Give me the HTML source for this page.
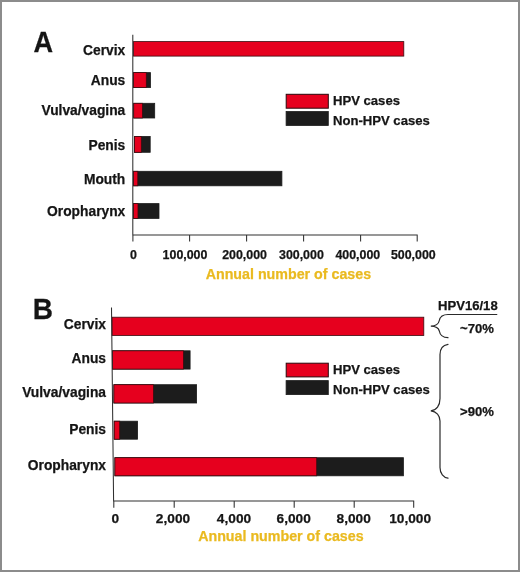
<!DOCTYPE html>
<html><head><meta charset="utf-8">
<style>
html,body{margin:0;padding:0;background:#fff;}
svg{display:block;}
text{font-family:"Liberation Sans",sans-serif;font-weight:bold;fill:#151515;stroke:#151515;stroke-width:0.25px;}
.lab{font-size:13.8px;text-anchor:end;}
.ta{font-size:12.4px;text-anchor:middle;}
.tb{font-size:13.7px;text-anchor:middle;}
.ax{font-size:14.25px;fill:#eaba20;stroke:#eaba20;text-anchor:middle;}
.leg{font-size:13.1px;}
.r{fill:#e6001e;stroke:#3a0c10;stroke-width:0.8;}
.k{fill:#1c1c1c;stroke:#1c1c1c;stroke-width:0.8;}
.l{stroke:#303030;stroke-width:1.05;fill:none;}
.b{stroke:#2a2a2a;stroke-width:1.2;fill:none;stroke-linecap:round;}
</style></head><body>
<svg width="520" height="572" viewBox="0 0 520 572">
<rect x="0" y="0" width="520" height="572" fill="#8c8c8c"/>
<rect x="2" y="2" width="516" height="568" fill="#fff"/>

<text transform="translate(33.6 51.7) scale(0.92 1)" style="font-size:29.5px">A</text>
<rect class="r" x="133.40" y="41.60" width="270.40" height="14.50"/>
<rect class="k" x="133.40" y="72.60" width="17.10" height="15.00"/>
<rect class="r" x="133.40" y="72.60" width="12.90" height="15.00"/>
<rect class="k" x="133.70" y="103.30" width="21.00" height="14.70"/>
<rect class="r" x="133.70" y="103.30" width="8.70" height="14.70"/>
<rect class="k" x="134.40" y="136.40" width="15.80" height="15.90"/>
<rect class="r" x="134.40" y="136.40" width="6.90" height="15.90"/>
<rect class="k" x="133.40" y="171.30" width="148.50" height="14.50"/>
<rect class="r" x="133.40" y="171.30" width="4.40" height="14.50"/>
<rect class="k" x="133.40" y="203.60" width="25.60" height="14.80"/>
<rect class="r" x="133.40" y="203.60" width="4.60" height="14.80"/>
<path class="l" d="M132.8 34.7V235.4M132.4 234.9H417.7M132.9 235v6.5M189.6 235v6.5M246.6 235v6.5M303.6 235v6.5M360.6 235v6.5M417.2 235v6.5"/>
<text class="lab" x="125.3" y="55.2">Cervix</text>
<text class="lab" x="125.3" y="85.0">Anus</text>
<text class="lab" x="125.3" y="115.0">Vulva/vagina</text>
<text class="lab" x="125.3" y="150.4">Penis</text>
<text class="lab" x="125.3" y="184.2">Mouth</text>
<text class="lab" x="125.3" y="215.5">Oropharynx</text>
<text class="ta" x="133.4" y="259.3">0</text>
<text class="ta" x="185.0" y="259.3">100,000</text>
<text class="ta" x="244.6" y="259.3">200,000</text>
<text class="ta" x="301.4" y="259.3">300,000</text>
<text class="ta" x="357.8" y="259.3">400,000</text>
<text class="ta" x="413.3" y="259.3">500,000</text>
<text class="ax" x="288.4" y="278.5">Annual number of cases</text>
<rect class="r" style="stroke:#2a080c;stroke-width:1" x="286.2" y="94.3" width="42.1" height="13.9"/>
<rect class="k" x="286.1" y="111.5" width="42.2" height="14"/>
<text class="leg" x="333" y="105">HPV cases</text>
<text class="leg" x="333" y="125">Non-HPV cases</text>
<text transform="translate(32.8 318.7) scale(0.95 1)" style="font-size:29.5px">B</text>
<rect class="r" x="112.00" y="317.20" width="311.80" height="18.30"/>
<rect class="k" x="112.40" y="350.80" width="77.70" height="18.30"/>
<rect class="r" x="112.40" y="350.80" width="71.10" height="18.30"/>
<rect class="k" x="113.90" y="384.70" width="82.70" height="18.30"/>
<rect class="r" x="113.90" y="384.70" width="39.60" height="18.30"/>
<rect class="k" x="114.20" y="421.20" width="23.40" height="18.00"/>
<rect class="r" x="114.20" y="421.20" width="5.50" height="18.00"/>
<rect class="k" x="114.90" y="457.70" width="288.50" height="18.10"/>
<rect class="r" x="114.90" y="457.70" width="201.80" height="18.10"/>
<path class="l" d="M111.5 307.5L113.6 501.4M113.2 500.9H414.2M113.8 501v6.7M174.2 501v6.7M234.2 501v6.7M294.2 501v6.7M354.2 501v6.7M413.7 501v6.7"/>
<text class="lab" x="106.0" y="328.9">Cervix</text>
<text class="lab" x="106.0" y="362.6">Anus</text>
<text class="lab" x="106.0" y="397.4">Vulva/vagina</text>
<text class="lab" x="106.0" y="434.2">Penis</text>
<text class="lab" x="106.0" y="470.4">Oropharynx</text>
<text class="tb" x="115.2" y="523.1">0</text>
<text class="tb" x="173.0" y="523.1">2,000</text>
<text class="tb" x="234.0" y="523.1">4,000</text>
<text class="tb" x="293.7" y="523.1">6,000</text>
<text class="tb" x="353.7" y="523.1">8,000</text>
<text class="tb" x="410.1" y="523.1">10,000</text>
<text class="ax" x="280.9" y="540.7">Annual number of cases</text>
<rect class="r" style="stroke:#2a080c;stroke-width:1" x="286.2" y="363.2" width="42.1" height="13.7"/>
<rect class="k" x="286.1" y="380.6" width="42.2" height="14"/>
<text class="leg" x="333" y="374.2">HPV cases</text>
<text class="leg" x="333" y="393.5">Non-HPV cases</text>
<text class="leg" x="438" y="309.6">HPV16/18</text>
<text class="leg" x="460" y="332.5">~70%</text>
<text class="leg" x="460" y="415.5">&gt;90%</text>
<path class="b" d="M496.8 314.5H448C443 314.5 440 317 439.3 320.5C438.5 324.5 436 326 430.8 326.1C436 326.2 438.5 327.5 439.3 331C440 335 443.5 337.6 448 337.7"/>
<path class="b" d="M448 344.3C443.5 345 440 348.5 440 354.5V398.5C440 405.5 436.5 410.5 430.8 410.9C436.5 411.3 440 416 440 421V467.5C440 473.5 443.5 477.5 448 478.1"/>
</svg>
</body></html>
